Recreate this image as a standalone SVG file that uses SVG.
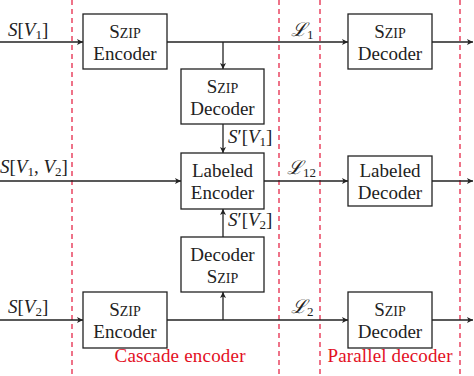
<svg xmlns="http://www.w3.org/2000/svg" width="474" height="376" viewBox="0 0 474 376">
<defs>
<marker id="arr" markerWidth="8" markerHeight="8" refX="7" refY="4" orient="auto" markerUnits="userSpaceOnUse">
<path d="M1,1 L7,4 L1,7 L2.5,4 z" fill="#222"/>
</marker>
<style>
.box{fill:#fff;stroke:#222;stroke-width:1.3}
.t{font-family:"Liberation Serif","Times New Roman",serif;font-size:19px;fill:#222;text-anchor:middle}
.sc{font-size:14px}
.m{font-family:"Liberation Serif","Times New Roman",serif;font-size:19px;fill:#222}
.i{font-style:italic}
.sub{font-size:13px}
.cal{font-family:"DejaVu Serif",serif;font-style:italic}
.ln{stroke:#222;stroke-width:1.3;fill:none}
.dash{stroke:#e3163a;stroke-width:1.2;stroke-dasharray:5,4;fill:none}
.red{font-family:"Liberation Serif","Times New Roman",serif;font-size:19px;fill:#e3101f;text-anchor:middle}
</style>
</defs>
<rect width="474" height="376" fill="#fff"/>
<g id="dashes">
<line class="dash" x1="72" y1="0" x2="72" y2="376"/>
<line class="dash" x1="279" y1="0" x2="279" y2="376"/>
<line class="dash" x1="320" y1="0" x2="320" y2="376"/>
<line class="dash" x1="460" y1="0" x2="460" y2="376"/>
</g>
<g id="connectors">
<line class="ln" x1="0" y1="42" x2="83" y2="42" marker-end="url(#arr)"/>
<line class="ln" x1="167" y1="42" x2="348" y2="42" marker-end="url(#arr)"/>
<line class="ln" x1="223" y1="42" x2="223" y2="69" marker-end="url(#arr)"/>
<line class="ln" x1="432" y1="42" x2="473" y2="42" marker-end="url(#arr)"/>
<line class="ln" x1="223" y1="124" x2="223" y2="153" marker-end="url(#arr)"/>
<line class="ln" x1="0" y1="181" x2="181" y2="181" marker-end="url(#arr)"/>
<line class="ln" x1="264" y1="181" x2="348" y2="181" marker-end="url(#arr)"/>
<line class="ln" x1="432" y1="181" x2="473" y2="181" marker-end="url(#arr)"/>
<line class="ln" x1="223" y1="237" x2="223" y2="209" marker-end="url(#arr)"/>
<line class="ln" x1="223" y1="320" x2="223" y2="292" marker-end="url(#arr)"/>
<line class="ln" x1="0" y1="320" x2="83" y2="320" marker-end="url(#arr)"/>
<line class="ln" x1="167" y1="320" x2="348" y2="320" marker-end="url(#arr)"/>
<line class="ln" x1="432" y1="320" x2="473" y2="320" marker-end="url(#arr)"/>
</g>
<g id="labels">
<text class="m" x="8" y="36"><tspan class="i">S</tspan>[<tspan class="i">V</tspan><tspan class="sub" dy="3">1</tspan><tspan dy="-3">]</tspan></text>
<text class="m" x="0" y="173"><tspan class="i">S</tspan>[<tspan class="i">V</tspan><tspan class="sub" dy="3">1</tspan><tspan dy="-3">, </tspan><tspan class="i">V</tspan><tspan class="sub" dy="3">2</tspan><tspan dy="-3">]</tspan></text>
<text class="m" x="8" y="313"><tspan class="i">S</tspan>[<tspan class="i">V</tspan><tspan class="sub" dy="3">2</tspan><tspan dy="-3">]</tspan></text>
<text class="m" x="228" y="143"><tspan class="i">S</tspan>′[<tspan class="i">V</tspan><tspan class="sub" dy="3">1</tspan><tspan dy="-3">]</tspan></text>
<text class="m" x="228" y="226"><tspan class="i">S</tspan>′[<tspan class="i">V</tspan><tspan class="sub" dy="3">2</tspan><tspan dy="-3">]</tspan></text>
<text class="m" x="291" y="36"><tspan class="cal">ℒ</tspan><tspan class="sub" dy="3">1</tspan></text>
<text class="m" x="287" y="174"><tspan class="cal">ℒ</tspan><tspan class="sub" dy="3">12</tspan></text>
<text class="m" x="291" y="313"><tspan class="cal">ℒ</tspan><tspan class="sub" dy="3">2</tspan></text>
<text class="red" x="180" y="362" textLength="131">Cascade encoder</text>
<text class="red" x="390" y="362" textLength="125">Parallel decoder</text>
</g>
<g id="enc1">
<rect class="box" x="83" y="14" width="84" height="55"/>
<text class="t" x="125" y="38">S<tspan class="sc">ZIP</tspan></text>
<text class="t" x="125" y="60">Encoder</text>
</g>
<g id="dec1">
<rect class="box" x="181" y="69" width="83" height="55"/>
<text class="t" x="222.5" y="93">S<tspan class="sc">ZIP</tspan></text>
<text class="t" x="222.5" y="115">Decoder</text>
</g>
<g id="labenc">
<rect class="box" x="181" y="153" width="83" height="56"/>
<text class="t" x="222.5" y="177">Labeled</text>
<text class="t" x="222.5" y="199">Encoder</text>
</g>
<g id="dec2">
<rect class="box" x="181" y="237" width="83" height="55"/>
<text class="t" x="222.5" y="261">Decoder</text>
<text class="t" x="222.5" y="283">S<tspan class="sc">ZIP</tspan></text>
</g>
<g id="enc2">
<rect class="box" x="83" y="292" width="84" height="56"/>
<text class="t" x="125" y="316">S<tspan class="sc">ZIP</tspan></text>
<text class="t" x="125" y="338">Encoder</text>
</g>
<g id="pdec1">
<rect class="box" x="348" y="14" width="84" height="55"/>
<text class="t" x="390" y="38">S<tspan class="sc">ZIP</tspan></text>
<text class="t" x="390" y="60">Decoder</text>
</g>
<g id="labdec">
<rect class="box" x="348" y="156" width="84" height="50"/>
<text class="t" x="390" y="177">Labeled</text>
<text class="t" x="390" y="199">Decoder</text>
</g>
<g id="pdec2">
<rect class="box" x="348" y="292" width="84" height="56"/>
<text class="t" x="390" y="316">S<tspan class="sc">ZIP</tspan></text>
<text class="t" x="390" y="338">Decoder</text>
</g>
</svg>
